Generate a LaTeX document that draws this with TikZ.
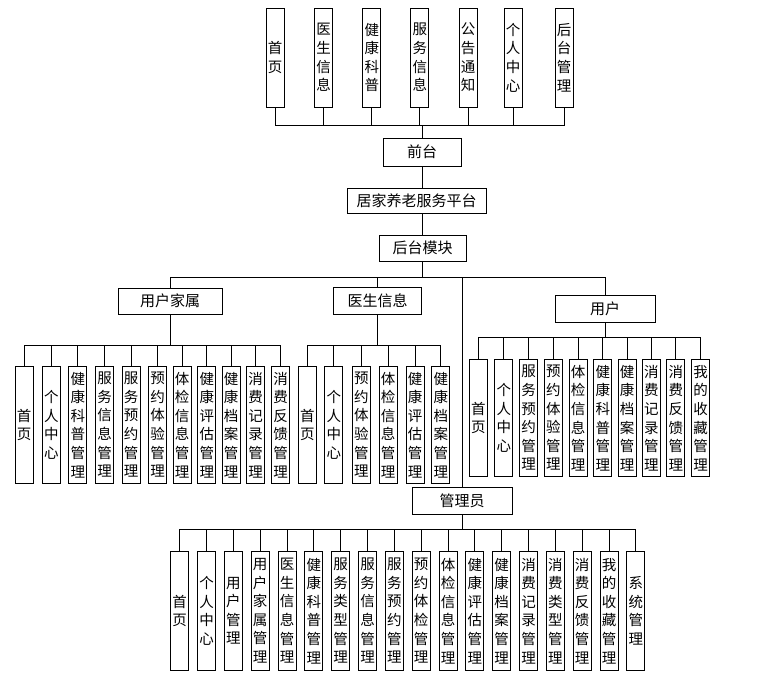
\documentclass[tikz,border=0pt]{standalone}
\usepackage{fontspec}
\setmainfont{Noto Sans CJK SC}
\usetikzlibrary{calc}

\tikzset{
  hbox/.style={draw, line width=0.9pt, inner sep=0pt, font=\fontsize{15}{17}\selectfont},
  vbox/.style={draw, line width=0.9pt, inner sep=0pt, minimum width=18pt, align=center, font=\fontsize{14.5}{18.6}\selectfont},
  link/.style={line width=0.9pt},
}

\begin{document}
\begin{tikzpicture}[x=1pt, y=-1pt]
\useasboundingbox (0,0) rectangle (757,675);

% Front modules
\node[vbox, minimum height=99pt] (t1) at (275,57.5) {首\\页};
\node[vbox, minimum height=99pt] (t2) at (323.5,57.5) {医\\生\\信\\息};
\node[vbox, minimum height=99pt] (t3) at (371.8,57.5) {健\\康\\科\\普};
\node[vbox, minimum height=99pt] (t4) at (419.8,57.5) {服\\务\\信\\息};
\node[vbox, minimum height=99pt] (t5) at (468,57.5) {公\\告\\通\\知};
\node[vbox, minimum height=99pt] (t6) at (513,57.5) {个\\人\\中\\心};
\node[vbox, minimum height=99pt] (t7) at (564,57.5) {后\\台\\管\\理};

% Main chain
\node[hbox, minimum width=78pt, minimum height=28pt] (qiantai) at (422,152) {前台};
\node[hbox, minimum width=139pt, minimum height=25pt] (pingtai) at (416.5,200.5) {居家养老服务平台};
\node[hbox, minimum width=87pt, minimum height=26pt] (houtai) at (422.5,248) {后台模块};

% Roles
\node[hbox, minimum width=104pt, minimum height=26pt] (jiashu) at (170,301) {用户家属};
\node[hbox, minimum width=88pt, minimum height=27pt] (yisheng) at (377.5,300.5) {医生信息};
\node[hbox, minimum width=100pt, minimum height=27pt] (yonghu) at (605,308.5) {用户};
\node[hbox, minimum width=100pt, minimum height=27pt] (guanli) at (462,500.7) {管理员};

% User family modules
\node[vbox, minimum height=116.3pt] (j1) at (24.2,424.8) {首\\页};
\node[vbox, minimum height=116.3pt] (j2) at (51.3,424.8) {个\\人\\中\\心};
\node[vbox, minimum height=116.3pt] (j3) at (77.8,424.8) {健\\康\\科\\普\\管\\理};
\node[vbox, minimum height=116.3pt] (j4) at (104.5,424.8) {服\\务\\信\\息\\管\\理};
\node[vbox, minimum height=116.3pt] (j5) at (131.2,424.8) {服\\务\\预\\约\\管\\理};
\node[vbox, minimum height=116.3pt] (j6) at (157.5,424.8) {预\\约\\体\\验\\管\\理};
\node[vbox, minimum height=116.3pt] (j7) at (182.2,424.8) {体\\检\\信\\息\\管\\理};
\node[vbox, minimum height=116.3pt] (j8) at (206.8,424.8) {健\\康\\评\\估\\管\\理};
\node[vbox, minimum height=116.3pt] (j9) at (231,424.8) {健\\康\\档\\案\\管\\理};
\node[vbox, minimum height=116.3pt] (j10) at (255.5,424.8) {消\\费\\记\\录\\管\\理};
\node[vbox, minimum height=116.3pt] (j11) at (280.5,424.8) {消\\费\\反\\馈\\管\\理};

% Doctor modules
\node[vbox, minimum height=116.3pt] (d1) at (307.3,424.8) {首\\页};
\node[vbox, minimum height=116.3pt] (d2) at (333.8,424.8) {个\\人\\中\\心};
\node[vbox, minimum height=116.3pt] (d3) at (361.3,424.8) {预\\约\\体\\验\\管\\理};
\node[vbox, minimum height=116.3pt] (d4) at (388,424.8) {体\\检\\信\\息\\管\\理};
\node[vbox, minimum height=116.3pt] (d5) at (415,424.8) {健\\康\\评\\估\\管\\理};
\node[vbox, minimum height=116.3pt] (d6) at (440.8,424.8) {健\\康\\档\\案\\管\\理};

% User modules
\node[vbox, minimum height=117.4pt] (u1) at (478.3,418) {首\\页};
\node[vbox, minimum height=117.4pt] (u2) at (503.8,418) {个\\人\\中\\心};
\node[vbox, minimum height=117.4pt] (u3) at (528.7,418) {服\\务\\预\\约\\管\\理};
\node[vbox, minimum height=117.4pt] (u4) at (553.3,418) {预\\约\\体\\验\\管\\理};
\node[vbox, minimum height=117.4pt] (u5) at (578,418) {体\\检\\信\\息\\管\\理};
\node[vbox, minimum height=117.4pt] (u6) at (602.8,418) {健\\康\\科\\普\\管\\理};
\node[vbox, minimum height=117.4pt] (u7) at (627.2,418) {健\\康\\档\\案\\管\\理};
\node[vbox, minimum height=117.4pt] (u8) at (651.3,418) {消\\费\\记\\录\\管\\理};
\node[vbox, minimum height=117.4pt] (u9) at (675.8,418) {消\\费\\反\\馈\\管\\理};
\node[vbox, minimum height=117.4pt] (u10) at (700.5,418) {我\\的\\收\\藏\\管\\理};

% Admin modules
\node[vbox, minimum height=118.3pt] (g1) at (179.7,610.8) {首\\页};
\node[vbox, minimum height=118.3pt] (g2) at (206.5,610.8) {个\\人\\中\\心};
\node[vbox, minimum height=118.3pt] (g3) at (233.4,610.8) {用\\户\\管\\理};
\node[vbox, minimum height=118.3pt] (g4) at (260.2,610.8) {用\\户\\家\\属\\管\\理};
\node[vbox, minimum height=118.3pt] (g5) at (287,610.8) {医\\生\\信\\息\\管\\理};
\node[vbox, minimum height=118.3pt] (g6) at (313.9,610.8) {健\\康\\科\\普\\管\\理};
\node[vbox, minimum height=118.3pt] (g7) at (340.7,610.8) {服\\务\\类\\型\\管\\理};
\node[vbox, minimum height=118.3pt] (g8) at (367.5,610.8) {服\\务\\信\\息\\管\\理};
\node[vbox, minimum height=118.3pt] (g9) at (394.3,610.8) {服\\务\\预\\约\\管\\理};
\node[vbox, minimum height=118.3pt] (g10) at (421.2,610.8) {预\\约\\体\\检\\管\\理};
\node[vbox, minimum height=118.3pt] (g11) at (448,610.8) {体\\检\\信\\息\\管\\理};
\node[vbox, minimum height=118.3pt] (g12) at (474.8,610.8) {健\\康\\评\\估\\管\\理};
\node[vbox, minimum height=118.3pt] (g13) at (501.6,610.8) {健\\康\\档\\案\\管\\理};
\node[vbox, minimum height=118.3pt] (g14) at (528.5,610.8) {消\\费\\记\\录\\管\\理};
\node[vbox, minimum height=118.3pt] (g15) at (555.3,610.8) {消\\费\\类\\型\\管\\理};
\node[vbox, minimum height=118.3pt] (g16) at (582.1,610.8) {消\\费\\反\\馈\\管\\理};
\node[vbox, minimum height=118.3pt] (g17) at (609,610.8) {我\\的\\收\\藏\\管\\理};
\node[vbox, minimum height=118.3pt] (g18) at (635.8,610.8) {系\\统\\管\\理};

% Connectors
\foreach \i in {1,...,7}
  \draw[link] (t\i.south) -- ++(0,18.3) -| (qiantai.north);
\draw[link] (qiantai.south) -- (qiantai.south |- pingtai.north);
\draw[link] (pingtai.south -| houtai.north) -- (houtai.north);
\foreach \r in {jiashu,yisheng,yonghu,guanli}
  \draw[link] (houtai.south) -- ++(0,16) -| (\r.north);
\foreach \i in {1,...,11}
  \draw[link] (j\i.north) -- ++(0,-20.7) -| (jiashu.south);
\foreach \i in {1,...,6}
  \draw[link] (d\i.north) -- ++(0,-20.7) -| (yisheng.south);
\foreach \i in {1,...,10}
  \draw[link] (u\i.north) -- ++(0,-21) -| (yonghu.south);
\foreach \i in {1,...,18}
  \draw[link] (g\i.north) -- ++(0,-21.7) -| (guanli.south);
\end{tikzpicture}
\end{document}
